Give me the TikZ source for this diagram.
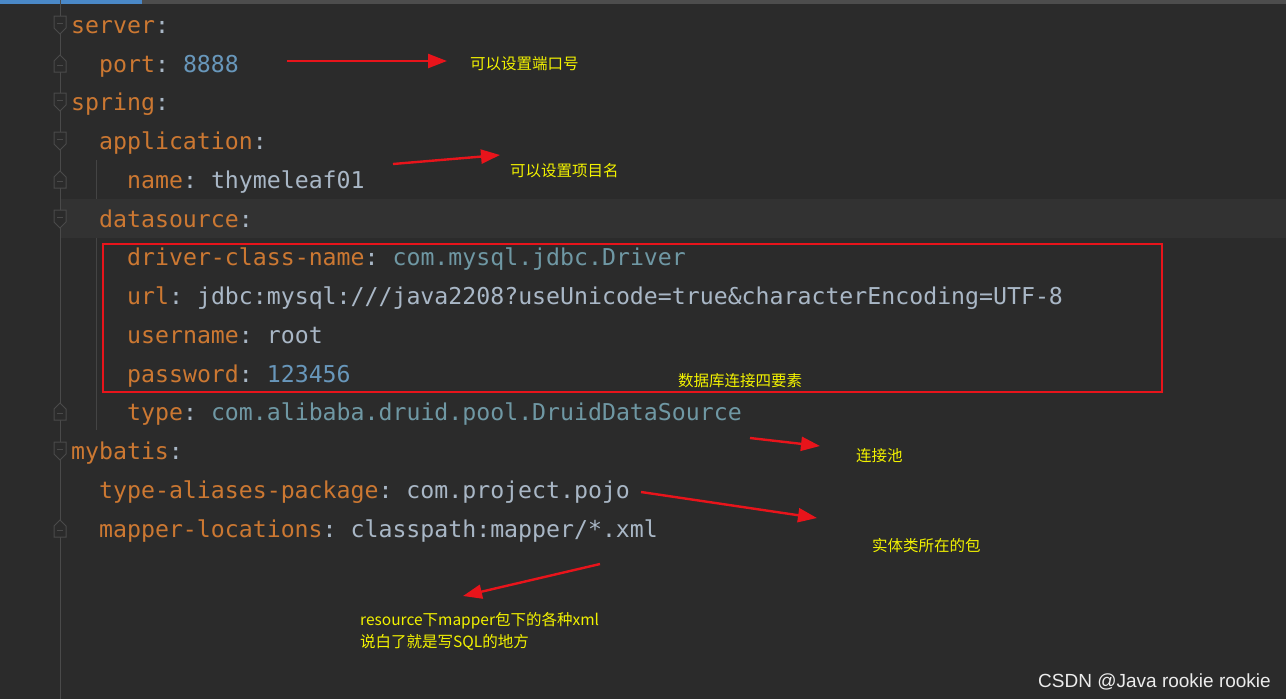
\documentclass[tikz,border=0pt]{standalone}
\usepackage{fontspec}
\setmonofont{DejaVu Sans Mono}
\newfontfamily\cjk{Noto Sans CJK SC}
\newfontfamily\lsans{Liberation Sans}
\definecolor{bg}{HTML}{2B2B2B}
\definecolor{hl}{HTML}{323232}
\definecolor{kw}{HTML}{CC7832}
\definecolor{tx}{HTML}{A9B7C6}
\definecolor{nm}{HTML}{6897BB}
\definecolor{cl}{HTML}{6F98A4}
\definecolor{ann}{HTML}{F2F200}
\definecolor{rd}{HTML}{E8141B}
\definecolor{gut}{HTML}{4A4A4A}
\definecolor{topbar}{HTML}{4A88C7}
\usetikzlibrary{arrows.meta}
\begin{document}
\begin{tikzpicture}[x=1pt,y=-1pt,
  code/.style={anchor=base west,inner sep=0pt,font=\ttfamily\fontsize{23.2}{23.2}\selectfont,text=tx},
  ann/.style={anchor=west,inner sep=0pt,font=\cjk\fontsize{15.5}{22}\selectfont,text=ann,align=left},
  redarrow/.style={draw=rd,line width=2.4pt,-{Triangle[length=19pt,width=14pt]}},
  foldopen/.style={draw=gut,line width=1pt,fill=bg},
]
\fill[bg] (0,0) rectangle (1286,699);
\useasboundingbox (0,0) rectangle (1286,699);
\fill[hl] (60,199) rectangle (1286,238);
\fill[topbar] (0,0) rectangle (142,4);
\fill[gray!40!bg] (142,0) rectangle (1286,4);
\draw[gut,line width=1pt] (60,0) -- (60,699);
\draw[gut!80!bg,line width=0.8pt] (96,160) -- (96,199);
\draw[gut!80!bg,line width=0.8pt] (96,238) -- (96,430);
% fold markers
\foreach \y in {25,102,141,219,451}{
  \draw[foldopen] (54,\y-9) -- (66,\y-9) -- (66,\y+3) -- (60,\y+9) -- (54,\y+3) -- cycle;
  \draw[gut,line width=1pt] (57,\y-2) -- (63,\y-2);}
\foreach \y in {64,180,412,529}{
  \draw[foldopen] (54,\y+8) -- (66,\y+8) -- (66,\y-3) -- (60,\y-9) -- (54,\y-3) -- cycle;
  \draw[gut,line width=1pt] (57,\y+1) -- (63,\y+1);}
% code
\def\c#1{\textcolor{kw}{#1}}
\node[code] (l1) at (71,33) {\c{server}:};
\node[code] (l2) at (99,72) {\c{port}: \textcolor{nm}{8888}};
\node[code] (l3) at (71,110) {\c{spring}:};
\node[code] (l4) at (99,149) {\c{application}:};
\node[code] (l5) at (127,188) {\c{name}: thymeleaf01};
\node[code] (l6) at (99,227) {\c{datasource}:};
\node[code] (l7) at (127,265) {\c{driver-class-name}: \textcolor{cl}{com.mysql.jdbc.Driver}};
\node[code] (l8) at (127,304) {\c{url}: jdbc:mysql:///java2208?useUnicode=true\&characterEncoding=UTF-8};
\node[code] (l9) at (127,343) {\c{username}: root};
\node[code] (l10) at (127,382) {\c{password}: \textcolor{nm}{123456}};
\node[code] (l11) at (127,420) {\c{type}: \textcolor{cl}{com.alibaba.druid.pool.DruidDataSource}};
\node[code] (l12) at (71,459) {\c{mybatis}:};
\node[code] (l13) at (99,498) {\c{type-aliases-package}: com.project.pojo};
\node[code] (l14) at (99,537) {\c{mapper-locations}: classpath:mapper/*.xml};
% box
\draw[rd,line width=1.8pt] (103,244) rectangle (1162,392);
% annotations
\node[ann] (a1) at (470,64) {可以设置端口号};
\node[ann] (a2) at (510,171) {可以设置项目名};
\node[ann] (a3) at (678,381) {数据库连接四要素};
\node[ann] (a4) at (856,456) {连接池};
\node[ann] (a5) at (872,546) {实体类所在的包};
\node[ann,anchor=north west] (a6) at (360,612) {resource下mapper包下的各种xml\\说白了就是写SQL的地方};
% arrows
\coordinate (s1) at (287,61); \coordinate (e1) at (447,61);
\coordinate (s2) at (393,164); \coordinate (e2) at (500,155);
\coordinate (s3) at (750,438); \coordinate (e3) at (820,446);
\coordinate (s4) at (641,492); \coordinate (e4) at (817,518);
\coordinate (s5) at (600,564); \coordinate (e5) at (463,596);
\foreach \i in {1,...,5}{\draw[redarrow] (s\i) -- (e\i);}
\node[anchor=east,inner sep=0pt,text=white!85!gray,font=\lsans\fontsize{19}{20}\selectfont] (wm) at (1271,682) {CSDN @Java rookie rookie};
\end{tikzpicture}
\end{document}
